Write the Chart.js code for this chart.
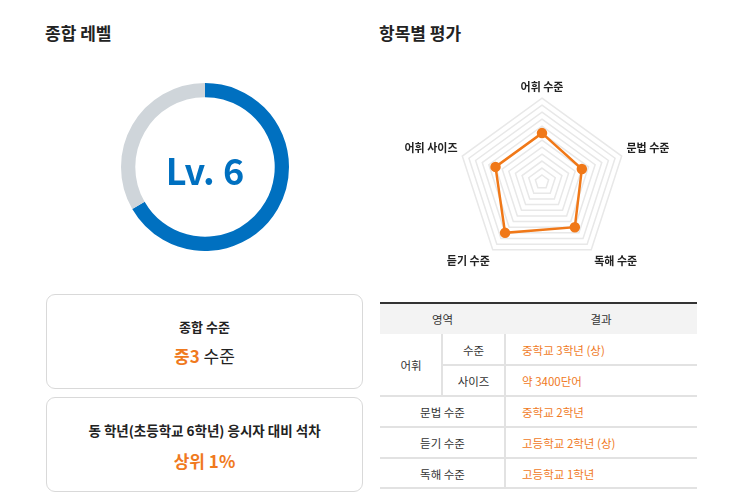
<!DOCTYPE html>
<html><head><meta charset="utf-8">
<script src="https://cdn.jsdelivr.net/npm/chart.js@4/dist/chart.umd.min.js"></script>
<style>
html,body{margin:0;padding:0;background:#fff;}
body{width:743px;height:501px;position:relative;overflow:hidden;font-family:"Noto Sans CJK KR","Noto Sans",sans-serif;color:#222;}
.abs{position:absolute;}
.title{font-size:17px;font-weight:700;color:#222;line-height:20px;}
.box{position:absolute;border:1.5px solid #d9d9d9;border-radius:9px;box-sizing:border-box;background:#fff;}
.line{position:absolute;text-align:center;left:0;right:0;}
.cell{position:absolute;display:flex;align-items:center;font-size:11.5px;color:#333;}
.c{justify-content:center;}
.o{color:#f07a1e;padding-left:17px;}
.hl{position:absolute;background:#e2e2e2;}
</style></head>
<body>
<div class="abs title" style="left:45px;top:23px;">종합 레벨</div>
<div class="abs title" style="left:379px;top:23px;">항목별 평가</div>

<div class="abs" style="left:121px;top:83px;width:168px;height:168px;"><canvas id="dough" width="168" height="168"></canvas></div>
<div id="lvText" class="abs" style="left:105px;width:200px;top:146px;height:46px;line-height:46px;text-align:center;font-size:36px;font-weight:700;color:#0070c0;"></div>

<div class="abs" style="left:382px;top:71px;width:320px;height:205px;"><canvas id="radar" width="320" height="205"></canvas></div>

<div class="box" style="left:46px;top:294px;width:317px;height:95px;">
  <div class="line" style="top:22px;font-size:13px;font-weight:700;">종합 수준</div>
  <div class="line" style="top:48px;font-size:17px;"><span id="lvl" style="color:#f07a1e;font-weight:700;"></span> 수준</div>
</div>
<div class="box" style="left:46px;top:397px;width:317px;height:95px;">
  <div class="line" style="top:22px;font-size:13.5px;font-weight:700;">동 학년(초등학교 6학년) 응시자 대비 석차</div>
  <div class="line" style="top:50px;font-size:17px;font-weight:700;color:#f07a1e;" id="rank"></div>
</div>

<div id="table"></div>

<script>
// Doughnut data
const levelLabel = 'Lv. 6';
const levelValues = [6, 3];
const levelColors = ['#0070c0', '#cfd5da'];

// Radar data
const radarLabels = ['어휘 수준', '문법 수준', '독해 수준', '듣기 수준', '어휘 사이즈'];
const radarValues = [9, 8, 10, 11, 9];
const radarMin = 2;
const radarMax = 14;

// Summary texts
const overallLevel = '중3';
const rankText = '상위 1%';

// Table texts
const tableHeader = ['영역', '결과'];
const vocabGroup = '어휘';
const vocabSub = ['수준', '사이즈'];
const vocabResults = ['중학교 3학년 (상)', '약 3400단어'];
const otherAreas = ['문법 수준', '듣기 수준', '독해 수준'];
const otherResults = ['중학교 2학년', '고등학교 2학년 (상)', '고등학교 1학년'];

document.getElementById('lvText').textContent = levelLabel;
document.getElementById('lvl').textContent = overallLevel;
document.getElementById('rank').textContent = rankText;

new Chart(document.getElementById('dough'), {
  type: 'doughnut',
  data: { labels: ['level', 'rest'], datasets: [{ data: levelValues, backgroundColor: levelColors, borderWidth: 0 }] },
  options: {
    responsive: false, animation: false, cutout: '83%',
    plugins: { legend: { display: false }, tooltip: { enabled: false } },
    layout: { padding: 0 }
  }
});

new Chart(document.getElementById('radar'), {
  type: 'radar',
  data: { labels: radarLabels, datasets: [{
    data: radarValues, borderColor: '#f07818', backgroundColor: 'rgba(0,0,0,0)',
    borderWidth: 2.5, pointRadius: 4, pointBackgroundColor: '#f07818', pointBorderColor: '#f07818', fill: false
  }] },
  options: {
    responsive: false, animation: false,
    plugins: { legend: { display: false }, tooltip: { enabled: false } },
    layout: { padding: 0 },
    scales: { r: {
      min: radarMin, max: radarMax,
      ticks: { display: false, stepSize: 1 },
      grid: { color: '#e8e8e8', lineWidth: 1.5 },
      angleLines: { display: false },
      pointLabels: { font: { family: '"Noto Sans CJK KR"', size: 11, weight: 'bold' }, color: '#222', padding: 5 }
    } }
  }
});

// Table
const T = document.getElementById('table');
function add(html){ T.insertAdjacentHTML('beforeend', html); }
function cell(x1, x2, y1, y2, text, cls){ add(`<div class="cell ${cls}" style="left:${x1}px;width:${x2-x1}px;top:${y1}px;height:${y2-y1}px;">${text}</div>`); }
add('<div class="abs" style="left:380px;top:302px;width:317px;height:2px;background:#333;"></div>');
add('<div class="abs" style="left:380px;top:304px;width:317px;height:30px;background:#f3f3f3;"></div>');
cell(380, 505, 304, 334, tableHeader[0], 'c');
cell(505, 697, 304, 334, tableHeader[1], 'c');
cell(380, 442, 334, 396, vocabGroup, 'c');
const rowsY = [334, 365, 396, 427, 458, 489];
for (let i = 0; i < 2; i++) {
  cell(442, 505, rowsY[i], rowsY[i+1], vocabSub[i], 'c');
  cell(505, 697, rowsY[i], rowsY[i+1], vocabResults[i], 'o');
}
for (let i = 0; i < 3; i++) {
  cell(380, 505, rowsY[i+2], rowsY[i+3], otherAreas[i], 'c');
  cell(505, 697, rowsY[i+2], rowsY[i+3], otherResults[i], 'o');
}
add('<div class="hl" style="left:442px;top:364px;width:255px;height:2px;"></div>');
for (const y of [395, 426, 457, 487]) add(`<div class="hl" style="left:380px;top:${y}px;width:317px;height:2px;"></div>`);
add('<div class="hl" style="left:441px;top:334px;width:2px;height:61px;"></div>');
add('<div class="hl" style="left:504px;top:334px;width:2px;height:153px;"></div>');
</script>
</body></html>
